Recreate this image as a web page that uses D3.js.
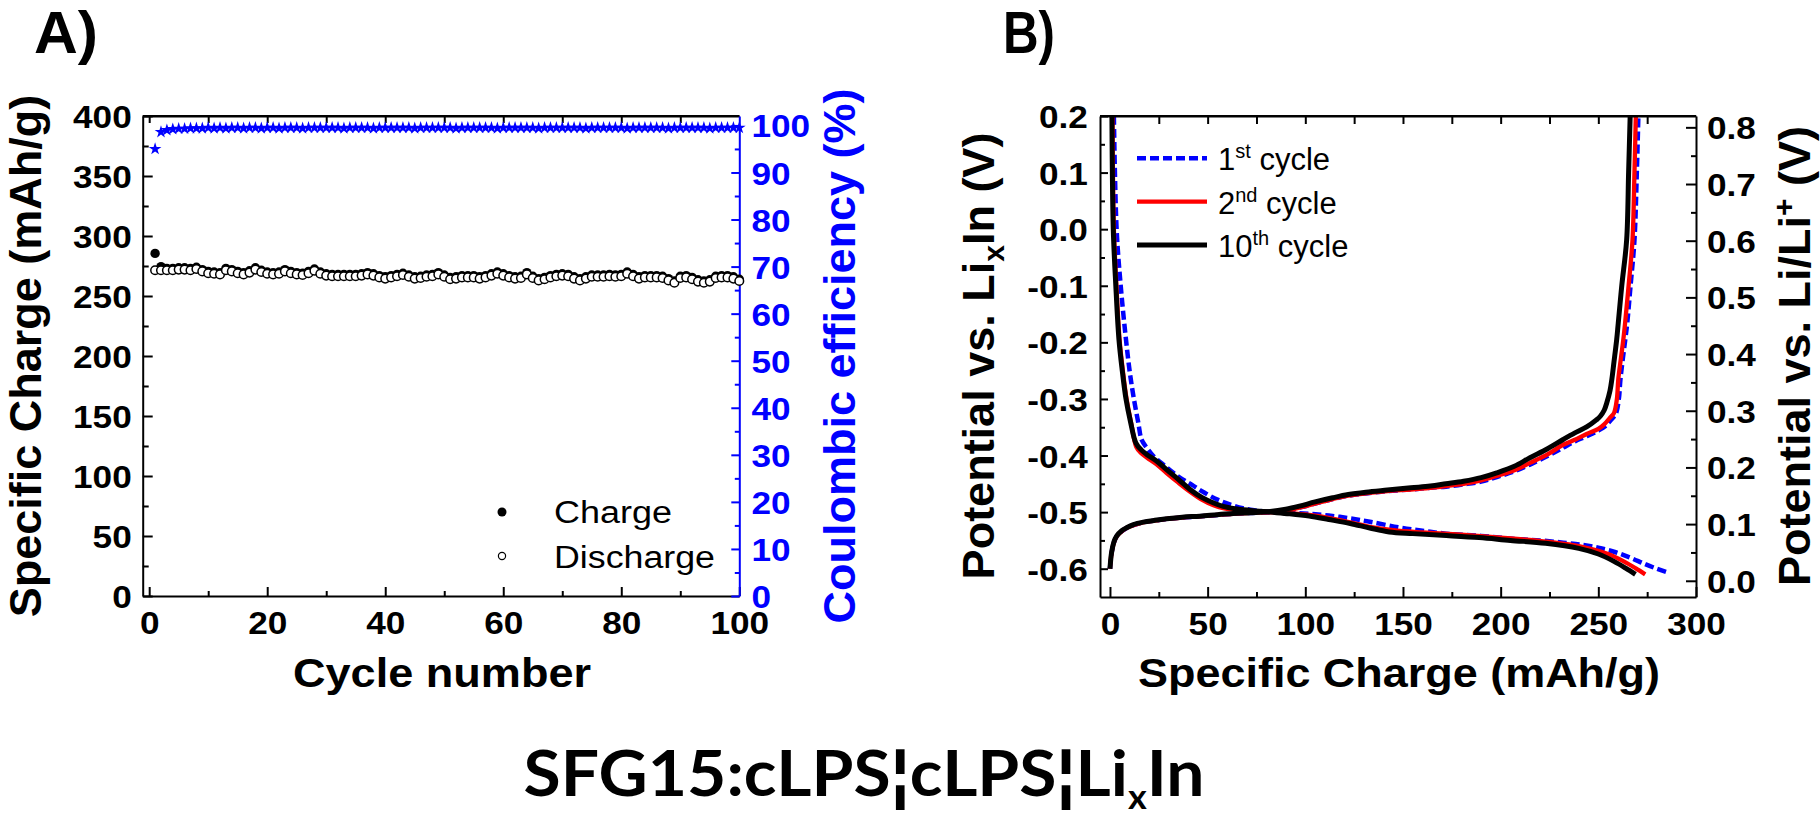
<!DOCTYPE html>
<html>
<head>
<meta charset="utf-8">
<script src="https://cdnjs.cloudflare.com/ajax/libs/d3/7.8.5/d3.min.js"></script>
<style>
  body { margin: 0; background: #fff; }
</style>
</head>
<body>
<svg id="fig"></svg>
<script>
//---------------------------------------- data ---------------------------------------
// panel A: cycling, specific charge (mAh/g) and coulombic efficiency (%)
var dischargeA = [271.5,271.5,271.5,271.5,272,272,271.5,272.5,270.5,269,
  268.5,268,271.5,270.5,269,268,269.5,272,270,268.5,
  268,268.5,270.5,269,268,267.5,269,271,268.5,267,
  266.5,266.5,266.5,266.5,266.5,267,268,267,265.5,264.5,
  265.5,266.5,267.5,266,264.5,265,266,266.5,268,266,
  264,264.5,265.5,265.5,265.5,264.5,265.5,267,268.5,267,
  265.5,264.5,265,268,265,263,264,265.5,266.5,267,
  266.5,264.5,263,264.5,266,266,266,266.5,266,266.5,
  268.5,266.5,264.5,265.5,265.5,265.5,265,263,261,265,
  265.5,264,262,261,262,265,265.5,265.5,264.5,262.5];
var chargeA = [285.5,274.5,273,273,273.5,273.5,273,274,272,270.5,
  270,269.5,273,272,270.5,269.5,271,273.5,271.5,270,
  269.5,270,272,270.5,269.5,269,270.5,272.5,270,268.5,
  268,268,268,268,268,268.5,269.5,268.5,267,266,
  267,268,269,267.5,266,266.5,267.5,268,269.5,267.5,
  265.5,266,267,267,267,266,267,268.5,270,268.5,
  267,266,266.5,269.5,266.5,264.5,265.5,267,268,268.5,
  268,266,264.5,266,267.5,267.5,267.5,268,267.5,268,
  270,268,266,267,267,267,266.5,264.5,262.5,266.5,
  267,265.5,263.5,262.5,263.5,266.5,267,267,266,264];
var effA = [95.0,98.6,99.0,99.2,99.3,99.3,99.4,99.4,99.4,99.5,
  99.4,99.5,99.4,99.5,99.5,99.4,99.5,99.5,99.4,99.5,
  99.5,99.4,99.5,99.5,99.5,99.4,99.5,99.5,99.5,99.5,
  99.5,99.5,99.4,99.5,99.5,99.5,99.5,99.4,99.5,99.5,
  99.5,99.5,99.5,99.5,99.4,99.5,99.5,99.5,99.5,99.5,
  99.5,99.4,99.5,99.5,99.5,99.5,99.5,99.5,99.4,99.5,
  99.5,99.5,99.5,99.5,99.5,99.4,99.5,99.5,99.5,99.5,
  99.5,99.5,99.5,99.4,99.5,99.5,99.5,99.5,99.5,99.5,
  99.4,99.5,99.5,99.5,99.5,99.5,99.5,99.4,99.5,99.5,
  99.5,99.5,99.5,99.5,99.4,99.5,99.5,99.5,99.5,99.5];
var cycles = d3.range(1, dischargeA.length + 1);

var xTicksA = [0, 20, 40, 60, 80, 100];
var yTicksA = [0, 50, 100, 150, 200, 250, 300, 350, 400];
var effTicks = [0, 10, 20, 30, 40, 50, 60, 70, 80, 90, 100];

// panel B: potential profiles, [specific charge mAh/g, potential vs LixIn V]
var firstLith = [[2,0.2],[3.4,0.0],[5.5,-0.1],[8.2,-0.195],[10.2,-0.254],[12.3,-0.301],[14.5,-0.342],[16.2,-0.372],
  [18.8,-0.386],[22,-0.4],[28,-0.418],[35,-0.437],[42,-0.452],[48,-0.465],[55,-0.478],[61,-0.486],[68,-0.493],
  [75,-0.497],[82,-0.5],[92,-0.501],[102,-0.503],[112,-0.506],[123,-0.511],[133,-0.517],[148,-0.527],[160,-0.533],
  [172,-0.538],[190,-0.542],[206,-0.547],[220,-0.55],[232,-0.554],[242,-0.558],[250,-0.563],[258,-0.57],
  [266,-0.58],[274,-0.592],[280,-0.6],[286,-0.607]];
var firstDelith = [[0,-0.6],[0.8,-0.573],[2,-0.554],[3.4,-0.543],[6,-0.534],[8.5,-0.528],[12,-0.523],[17,-0.518],
  [23,-0.515],[29,-0.512],[37,-0.5095],[46,-0.5075],[55,-0.505],[63,-0.503],[72,-0.5015],[82,-0.5],[90,-0.497],
  [97,-0.492],[105,-0.485],[114,-0.477],[122,-0.471],[131,-0.467],[142,-0.463],[154,-0.46],[164,-0.457],
  [172,-0.455],[181,-0.451],[190,-0.446],[198,-0.438],[207,-0.428],[215,-0.416],[224,-0.401],[232,-0.386],
  [238,-0.375],[244,-0.366],[250,-0.356],[254,-0.347],[256.5,-0.337],[259,-0.326],[260.5,-0.3],[261.3,-0.266],
  [262.5,-0.23],[263.8,-0.195],[264.8,-0.166],[266.5,-0.1],[268.5,-0.019],[269.7,0.1],[270.5,0.2]];
var secondLith = [[1.3,0.2],[2,0.0],[3.3,-0.1],[4.9,-0.195],[6.6,-0.25],[8.5,-0.3],[11,-0.345],[13.5,-0.385],
  [16,-0.396],[19,-0.404],[24,-0.416],[29,-0.431],[35,-0.448],[41,-0.464],[47,-0.478],[53,-0.488],[58,-0.493],
  [64,-0.496],[72,-0.498],[82,-0.5],[92,-0.502],[102,-0.505],[112,-0.51],[123,-0.518],[133,-0.526],[145,-0.532],
  [160,-0.536],[180,-0.54],[200,-0.545],[220,-0.551],[235,-0.557],[245,-0.564],[255,-0.574],[263,-0.587],
  [269,-0.599],[274,-0.61]];
var secondDelith = [[0,-0.6],[0.8,-0.573],[2,-0.554],[3.4,-0.543],[6,-0.534],[8.5,-0.528],[12,-0.523],[17,-0.518],
  [23,-0.515],[29,-0.512],[37,-0.5095],[46,-0.5075],[55,-0.505],[63,-0.503],[72,-0.5015],[82,-0.5],[90,-0.497],
  [97,-0.492],[105,-0.485],[114,-0.477],[122,-0.471],[131,-0.467],[142,-0.463],[154,-0.46],[164,-0.457],
  [172,-0.454],[181,-0.45],[190,-0.444],[198,-0.436],[207,-0.426],[215,-0.413],[224,-0.398],[232,-0.381],
  [238,-0.372],[244,-0.362],[250,-0.353],[253,-0.345],[256,-0.333],[258,-0.325],[259.5,-0.3],[260.2,-0.266],
  [261.5,-0.23],[262.8,-0.195],[263.7,-0.166],[265.5,-0.1],[267.5,-0.019],[268.5,0.1],[269.2,0.2]];
var tenthLith = [[1,0.2],[1.7,0.0],[3,-0.1],[4.6,-0.195],[6.3,-0.25],[8.2,-0.3],[10.5,-0.34],[13.3,-0.378],
  [16,-0.39],[18.8,-0.398],[24,-0.41],[29,-0.425],[35,-0.442],[41,-0.46],[47,-0.474],[52.8,-0.4835],[58,-0.49],
  [64,-0.494],[72,-0.497],[82,-0.5],[92,-0.503],[102,-0.507],[112,-0.513],[123,-0.52],[133,-0.528],[143,-0.535],
  [155,-0.538],[170,-0.541],[189,-0.545],[205,-0.55],[223,-0.555],[240,-0.564],[250,-0.574],[258,-0.587],
  [264,-0.599],[269,-0.61]];
var tenthDelith = [[0,-0.6],[0.8,-0.572],[2,-0.553],[3.4,-0.5425],[6,-0.533],[8.5,-0.5277],[12,-0.522],[17,-0.5177],
  [23,-0.5145],[29,-0.5118],[37,-0.509],[46,-0.5071],[55,-0.5045],[63,-0.5024],[72,-0.501],[82,-0.499],[90,-0.495],
  [97,-0.4895],[105,-0.482],[114,-0.4747],[122,-0.469],[131,-0.4648],[142,-0.461],[154,-0.457],[164,-0.454],
  [172,-0.45],[181,-0.4454],[190,-0.439],[198,-0.4306],[207,-0.419],[215,-0.404],[224,-0.388],[232,-0.3717],
  [238,-0.36],[244,-0.3494],[249,-0.337],[251,-0.3306],[253,-0.32],[254.3,-0.307],[256,-0.285],[256.9,-0.2658],
  [258,-0.235],[259.4,-0.195],[260.2,-0.166],[262,-0.1],[264.5,-0.019],[265.5,0.1],[266.3,0.2]];

var xTicksB = [0, 50, 100, 150, 200, 250, 300];
var yTicksB = [-0.6, -0.5, -0.4, -0.3, -0.2, -0.1, 0.0, 0.1, 0.2];
var yTicksB2 = [0.0, 0.1, 0.2, 0.3, 0.4, 0.5, 0.6, 0.7, 0.8];
var seriesB = [
  {name: "1", sup: "st", lith: firstLith, delith: firstDelith, color: "#0000ff", width: 4.5, dash: "9,4"},
  {name: "2", sup: "nd", lith: secondLith, delith: secondDelith, color: "#ff0000", width: 4.3, dash: null},
  {name: "10", sup: "th", lith: tenthLith, delith: tenthDelith, color: "#000000", width: 5, dash: null}
];

//---------------------------------------- setup ---------------------------------------
var FONT = "'Liberation Sans', Arial, Helvetica, sans-serif";
var svg = d3.select("#fig").attr("width", 1820).attr("height", 817);
svg.append("rect").attr("width", 1820).attr("height", 817).attr("fill", "#fff");

function drawAxis(orient, scale, at, majors, minors, fmt, color, pad, majorLen, minorLen) {
  var maker = {bottom: d3.axisBottom, top: d3.axisTop, left: d3.axisLeft, right: d3.axisRight}[orient];
  var horiz = (orient == "bottom" || orient == "top");
  var tr = horiz ? "translate(0," + at + ")" : "translate(" + at + ",0)";
  if (minors) {
    var gm = svg.append("g").attr("transform", tr)
      .call(maker(scale).tickValues(minors).tickSize(-minorLen).tickSizeOuter(0).tickFormat(""));
    gm.select(".domain").remove();
    gm.selectAll("line").attr("stroke", color).attr("stroke-width", 2);
  }
  var g = svg.append("g").attr("transform", tr)
    .call(maker(scale).tickValues(majors).tickSize(-majorLen).tickSizeOuter(0).tickPadding(pad).tickFormat(fmt || ""));
  g.select(".domain").attr("stroke", color).attr("stroke-width", 2);
  g.selectAll(".tick line").attr("stroke", color).attr("stroke-width", 2);
  g.selectAll(".tick text")
    .attr("fill", color)
    .style("font-family", FONT).style("font-weight", "bold").style("font-size", "32px");
  if (horiz) g.selectAll(".tick text").attr("dy", "0.71em");
  else g.selectAll(".tick text").attr("dy", "0.36em");
  g.selectAll(".tick text").attr("transform", "scale(1.1,1)");
  return g;
}

// horizontal text, stretched to the measured width
function hText(x, y, str, size, weight, anchor, len) {
  var t = svg.append("text")
    .attr("x", x).attr("y", y)
    .attr("text-anchor", anchor)
    .style("font-family", FONT).style("font-weight", weight).style("font-size", size + "px")
    .text(str);
  if (len) t.attr("textLength", len).attr("lengthAdjust", "spacingAndGlyphs");
  return t;
}

// rotated axis title
function vTitle(x, y, size, color) {
  return svg.append("text")
    .attr("transform", "translate(" + x + "," + y + ") rotate(-90)")
    .attr("text-anchor", "middle")
    .attr("fill", color)
    .style("font-family", FONT).style("font-weight", "bold").style("font-size", size + "px");
}

//---------------------------------------- Panel A ---------------------------------------
var xA = d3.scaleLinear().domain([-1.1, 100]).range([142.7, 739.3]);
var yA = d3.scaleLinear().domain([0, 400]).range([596, 116]);
var yA2 = d3.scaleLinear().domain([0, 102]).range([596, 116]);

// top frame
svg.append("line").attr("x1", 142.7).attr("x2", 739.3).attr("y1", 116).attr("y2", 116)
  .attr("stroke", "#000").attr("stroke-width", 2);
drawAxis("top", xA, 116, d3.range(0, 100, 10), null, null, "#000", 0, 7, 0);
drawAxis("bottom", xA, 596, xTicksA, [10, 30, 50, 70, 90], d3.format("d"), "#000", 15, 9, 5);
drawAxis("left", yA, 142.7, yTicksA, d3.range(25, 400, 50), d3.format("d"), "#000", 10, 10, 6);
drawAxis("right", yA2, 739.3, effTicks, d3.range(5, 100, 10), d3.format("d"), "#0000ff", 11, 8, 4.5);

var starA = d3.symbol().type(d3.symbolStar).size(50);
svg.append("g").selectAll("path")
  .data(effA).enter().append("path")
  .attr("transform", function(d, i) { return "translate(" + xA(cycles[i]) + "," + yA2(d) + ")"; })
  .attr("d", starA)
  .attr("fill", "#0000ff");

svg.append("g").selectAll("circle")
  .data(chargeA).enter().append("circle")
  .attr("cx", function(d, i) { return xA(cycles[i]); })
  .attr("cy", function(d) { return yA(d); })
  .attr("r", 4.7)
  .attr("fill", "#000");

svg.append("g").selectAll("circle")
  .data(dischargeA).enter().append("circle")
  .attr("cx", function(d, i) { return xA(cycles[i]); })
  .attr("cy", function(d) { return yA(d); })
  .attr("r", 4.3)
  .attr("fill", "#fff")
  .attr("stroke", "#000")
  .attr("stroke-width", 1.5);

// legend A
svg.append("circle").attr("cx", 502).attr("cy", 512).attr("r", 4.5).attr("fill", "#000");
svg.append("circle").attr("cx", 502).attr("cy", 556).attr("r", 3.6).attr("fill", "#fff")
  .attr("stroke", "#000").attr("stroke-width", 1.2);
hText(554, 523, "Charge", 31, "normal", "start", 118);
hText(554, 568, "Discharge", 31, "normal", "start", 161);

// titles A
hText(442, 687, "Cycle number", 40, "bold", "middle", 298);
vTitle(41, 356, 45, "#000").text("Specific Charge (mAh/g)");
vTitle(855, 356, 45, "#0000ff").text("Coulombic efficiency (%)");
hText(34, 53, "A)", 60, "bold", "start", 64);

//---------------------------------------- Panel B ---------------------------------------
var xB = d3.scaleLinear().domain([-5.1, 300]).range([1100, 1696]);
var yB = d3.scaleLinear().domain([-0.65, 0.2]).range([597, 116]);
var yB2 = d3.scaleLinear().domain([-0.0286, 0.82]).range([597, 116]);
var fmtV = function(d) { return d.toFixed(1); };

svg.append("defs").append("clipPath").attr("id", "clipB")
  .append("rect").attr("x", 1100).attr("y", 116).attr("width", 596).attr("height", 481);

var lineB = d3.line()
  .x(function(d) { return xB(d[0]); })
  .y(function(d) { return yB(d[1]); })
  .curve(d3.curveCatmullRom.alpha(0.5));

var plotB = svg.append("g").attr("clip-path", "url(#clipB)");
seriesB.forEach(function(s) {
  [s.lith, s.delith].forEach(function(pts) {
    plotB.append("path")
      .attr("d", lineB(pts))
      .attr("fill", "none")
      .attr("stroke", s.color)
      .attr("stroke-width", s.width)
      .attr("stroke-dasharray", s.dash)
      .attr("stroke-linejoin", "round");
  });
});

svg.append("line").attr("x1", 1100).attr("x2", 1696).attr("y1", 116).attr("y2", 116)
  .attr("stroke", "#000").attr("stroke-width", 2);
drawAxis("top", xB, 116, d3.range(25, 300, 25), null, null, "#000", 0, 8, 0);
drawAxis("bottom", xB, 597, xTicksB, d3.range(25, 300, 50), d3.format("d"), "#000", 15, 10, 5);
drawAxis("left", yB, 1100, yTicksB, [-0.55, -0.45, -0.35, -0.25, -0.15, -0.05, 0.05, 0.15], fmtV, "#000", 11, 8, 5);
drawAxis("right", yB2, 1696, yTicksB2, [0.05, 0.15, 0.25, 0.35, 0.45, 0.55, 0.65, 0.75], fmtV, "#000", 10, 10, 5);

// legend B
var legY = [158.3, 201.7, 245];
seriesB.forEach(function(s, i) {
  svg.append("line")
    .attr("x1", 1137).attr("x2", 1207).attr("y1", legY[i]).attr("y2", legY[i])
    .attr("stroke", s.color).attr("stroke-width", s.width).attr("stroke-dasharray", s.dash);
  var t = svg.append("text")
    .attr("x", 1218).attr("y", legY[i] + 12)
    .style("font-family", FONT).style("font-size", "31px");
  t.append("tspan").text(s.name);
  t.append("tspan").attr("dy", -12).style("font-size", "20px").text(s.sup);
  t.append("tspan").attr("dy", 12).text(" cycle");
});

// titles B
hText(1399, 687, "Specific Charge (mAh/g)", 40, "bold", "middle", 522);
var tl = vTitle(994, 356, 45, "#000");
tl.append("tspan").text("Potential vs. Li");
tl.append("tspan").attr("dy", 10).style("font-size", "30px").text("x");
tl.append("tspan").attr("dy", -10).text("In (V)");
var tr = vTitle(1810, 356, 45, "#000");
tr.append("tspan").text("Potential vs. Li/Li");
tr.append("tspan").attr("dy", -16).style("font-size", "30px").text("+");
tr.append("tspan").attr("dy", 16).text(" (V)");
hText(1003, 53, "B)", 60, "bold", "start", 52);

//---------------------------------------- cell title ---------------------------------------
var cell = svg.append("text")
  .attr("x", 864).attr("y", 796)
  .attr("text-anchor", "middle")
  .attr("textLength", 681).attr("lengthAdjust", "spacingAndGlyphs")
  .style("font-family", "Lato, 'Open Sans', sans-serif").style("font-weight", "bold").style("font-size", "64px");
cell.append("tspan").text("SFG15:cLPS");
cell.append("tspan").style("font-family", FONT).text("\u00a6");
cell.append("tspan").text("cLPS");
cell.append("tspan").style("font-family", FONT).text("\u00a6");
cell.append("tspan").text("Li");
cell.append("tspan").attr("dy", 13).style("font-size", "34px").text("x");
cell.append("tspan").attr("dy", -13).text("In");
</script>
</body>
</html>
